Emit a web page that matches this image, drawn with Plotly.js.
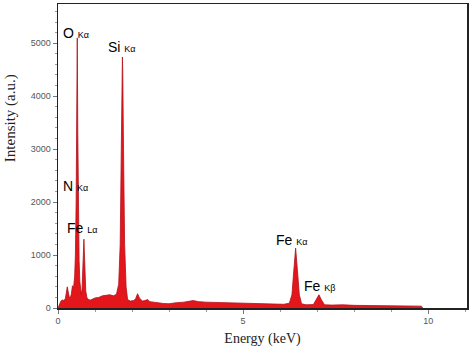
<!DOCTYPE html>
<html><head><meta charset="utf-8">
<script src="https://cdn.plot.ly/plotly-3.0.1.min.js"></script>
<style>html,body{margin:0;padding:0;background:#fff;}#chart{width:474px;height:351px;}</style>
</head><body><div id="chart"></div>
<script>
// Energy (keV) and intensity (a.u.)
const energy = [0.00,0.04,0.08,0.12,0.16,0.20,0.23,0.25,0.27,0.30,0.33,0.36,0.39,0.42,0.45,0.47,0.49,0.505,0.515,0.52,0.525,0.535,0.55,0.57,0.59,0.61,0.63,0.65,0.67,0.69,0.70,0.715,0.73,0.75,0.78,0.82,0.88,0.94,1.00,1.10,1.20,1.30,1.40,1.50,1.58,1.64,1.68,1.71,1.73,1.74,1.75,1.77,1.80,1.84,1.88,1.95,2.05,2.10,2.15,2.20,2.28,2.35,2.42,2.48,2.55,2.65,2.75,2.85,3.00,3.20,3.40,3.65,3.80,4.00,4.30,4.60,4.90,5.20,5.50,5.80,6.10,6.25,6.32,6.37,6.42,6.47,6.52,6.58,6.70,6.90,6.98,7.05,7.12,7.20,7.40,7.70,8.00,8.40,8.80,9.20,9.50,9.82,9.85];
const intensity = [0,60,130,150,140,180,300,400,330,220,190,260,420,380,600,1000,2000,3500,4550,5100,4550,3300,1800,900,500,320,260,350,700,1100,1300,1000,600,320,200,160,150,170,190,200,230,240,250,230,260,450,1200,3000,4450,4740,4450,3000,1200,400,160,130,140,180,270,190,130,140,160,120,110,100,95,85,80,100,110,140,120,110,105,100,95,90,80,75,70,90,250,700,1130,700,250,80,60,65,150,250,150,60,55,60,50,45,40,45,40,35,0];

// Peak labels: element, line, anchor energy, anchor intensity
const labelElement = ["O","Si","N","Fe","C","Fe","Fe"];
const labelLine = ["Kα","Kα","Kα","Lα","Kα","Kα","Kβ"];
const labelEnergy = [0.09,1.31,0.07,0.20,-0.01,5.84,6.59];
const labelIntensity = [5200,4920,2300,1510,510,1290,420];

const xTicks = [0,5,10];
const yTicks = [0,1000,2000,3000,4000,5000];

const annotations = labelElement.map((el,i)=>({
  x: labelEnergy[i], y: labelIntensity[i], xref:'x', yref:'y',
  xanchor:'left', yanchor:'middle', showarrow:false,
  text: el + ' <span style="font-size:9px">' + labelLine[i] + '</span>',
  font:{family:'Liberation Sans, Arial, sans-serif', size:14, color:'#000'}
}));
annotations.push({
  xref:'paper', yref:'paper', x:-0.117, y:0.625, xanchor:'center', yanchor:'middle',
  textangle:-90, showarrow:false, text:'Intensity (a.u.)',
  font:{family:'Liberation Serif, Times New Roman, serif', size:15, color:'#222'}
});

const trace = {
  x: energy, y: intensity, type:'scatter', mode:'lines',
  fill:'tozeroy', fillcolor:'#e3161c',
  line:{color:'#b3121a', width:0.8}, hoverinfo:'skip'
};

const layout = {
  width:474, height:351,
  margin:{l:58, r:7, t:4, b:43},
  paper_bgcolor:'#fff', plot_bgcolor:'#fff',
  showlegend:false,
  xaxis:{
    range:[0,11.05], tickvals:xTicks, ticktext:xTicks.map(String),
    showgrid:false, zeroline:false, showline:true, mirror:true,
    linecolor:'#222', linewidth:1.5, ticks:'outside', ticklen:4, tickcolor:'#777',
    minor:{dtick:1, ticks:'outside', ticklen:2, tickcolor:'#999'},
    tickfont:{family:'Liberation Sans, Arial, sans-serif', size:9, color:'#555'},
    title:{text:'Energy (keV)', standoff:8, font:{family:'Liberation Serif, Times New Roman, serif', size:14, color:'#222'}}
  },
  yaxis:{
    range:[0,5740], tickvals:yTicks, ticktext:yTicks.map(String),
    showgrid:false, zeroline:false, showline:true, mirror:true,
    linecolor:'#222', linewidth:1.5, ticks:'outside', ticklen:4, tickcolor:'#777',
    minor:{dtick:200, ticks:'outside', ticklen:2, tickcolor:'#999'},
    tickfont:{family:'Liberation Sans, Arial, sans-serif', size:9, color:'#555'}
  },
  annotations: annotations
};

Plotly.newPlot('chart',[trace],layout,{staticPlot:true, displayModeBar:false});
</script></body></html>
